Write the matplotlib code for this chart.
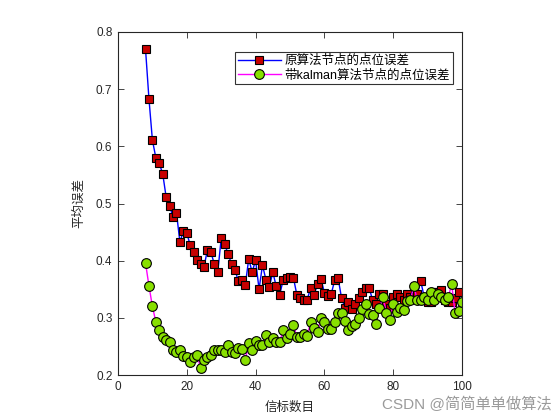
import numpy as np
import matplotlib.pyplot as plt

plt.rcParams['font.family'] = ['Liberation Sans', 'Noto Sans CJK SC', 'DejaVu Sans']

# beacon counts
beacons = np.arange(8, 101)

# original algorithm error
err_orig = [0.770, 0.683, 0.611, 0.580, 0.570, 0.552, 0.511, 0.496, 0.476, 0.484,
            0.432, 0.452, 0.448, 0.427, 0.415, 0.401, 0.394, 0.389, 0.419, 0.415,
            0.394, 0.380, 0.439, 0.430, 0.411, 0.395, 0.384, 0.364, 0.366, 0.357,
            0.403, 0.380, 0.401, 0.350, 0.392, 0.367, 0.354, 0.380, 0.355, 0.340,
            0.366, 0.369, 0.372, 0.370, 0.340, 0.334, 0.331, 0.332, 0.352, 0.340,
            0.359, 0.368, 0.344, 0.338, 0.342, 0.366, 0.369, 0.334, 0.318, 0.328,
            0.315, 0.325, 0.335, 0.346, 0.352, 0.353, 0.331, 0.325, 0.342, 0.342,
            0.325, 0.318, 0.336, 0.342, 0.336, 0.332, 0.342, 0.337, 0.337, 0.342,
            0.364, 0.337, 0.327, 0.327, 0.346, 0.346, 0.349, 0.331, 0.327, 0.327,
            0.334, 0.346, 0.312]

# with kalman filter
err_kalman = [0.396, 0.356, 0.320, 0.293, 0.278, 0.267, 0.261, 0.257, 0.243, 0.241,
              0.244, 0.234, 0.232, 0.222, 0.232, 0.235, 0.212, 0.227, 0.232, 0.235,
              0.243, 0.244, 0.244, 0.240, 0.252, 0.240, 0.239, 0.247, 0.246, 0.226,
              0.256, 0.243, 0.260, 0.253, 0.253, 0.270, 0.257, 0.264, 0.257, 0.257,
              0.279, 0.265, 0.272, 0.287, 0.267, 0.266, 0.272, 0.268, 0.293, 0.282,
              0.276, 0.299, 0.293, 0.281, 0.280, 0.293, 0.308, 0.308, 0.295, 0.279,
              0.286, 0.289, 0.299, 0.315, 0.325, 0.307, 0.305, 0.290, 0.318, 0.336,
              0.309, 0.297, 0.325, 0.311, 0.317, 0.314, 0.330, 0.331, 0.356, 0.331,
              0.331, 0.336, 0.332, 0.346, 0.332, 0.342, 0.336, 0.332, 0.336, 0.359,
              0.308, 0.312, 0.327]

labels = ['原算法节点的点位误差', '带kalman算法节点的点位误差']

fig = plt.figure(figsize=(5.6, 4.2), dpi=100)
ax = fig.add_axes([118 / 560, 45 / 420, 344 / 560, 343 / 420])

ax.plot(beacons, err_orig, '-s', color='#0000ff', lw=1,
        markerfacecolor='#c80000', markeredgecolor='black', markeredgewidth=0.8,
        markersize=5.5, label=labels[0])
ax.plot(beacons, err_kalman, '-o', color='#ff00ff', lw=1,
        markerfacecolor='#88e000', markeredgecolor='black', markeredgewidth=0.8,
        markersize=7, label=labels[1])

ax.set_xlim(0, 100)
ax.set_ylim(0.2, 0.8)
ax.set_xticks(range(0, 101, 20))
ax.set_yticks(np.arange(0.2, 0.81, 0.1))
ax.set_yticklabels(['0.2', '0.3', '0.4', '0.5', '0.6', '0.7', '0.8'])
ax.tick_params(direction='in', length=4, width=0.6, labelsize=8.5, colors='#262626',
               top=True, right=True, pad=4)
for s in ax.spines.values():
    s.set_linewidth(0.8)
    s.set_color('#262626')

ax.set_xlabel('信标数目', fontsize=9, color='#262626', labelpad=7)
ax.set_ylabel('平均误差', fontsize=9, color='#262626', labelpad=8)

leg = ax.legend(loc='upper right', bbox_to_anchor=(0.974, 0.942), fontsize=9,
                frameon=True, fancybox=False, edgecolor='black',
                handlelength=3.4, borderpad=0.25, labelspacing=0.15,
                handletextpad=0.3, borderaxespad=0)
leg.get_frame().set_linewidth(0.8)

fig.text(0.985, 0.02, 'CSDN @简简单单做算法', ha='right', va='bottom',
         fontsize=11, color='#9a9a9a')

fig.savefig('out.png', dpi=100)
